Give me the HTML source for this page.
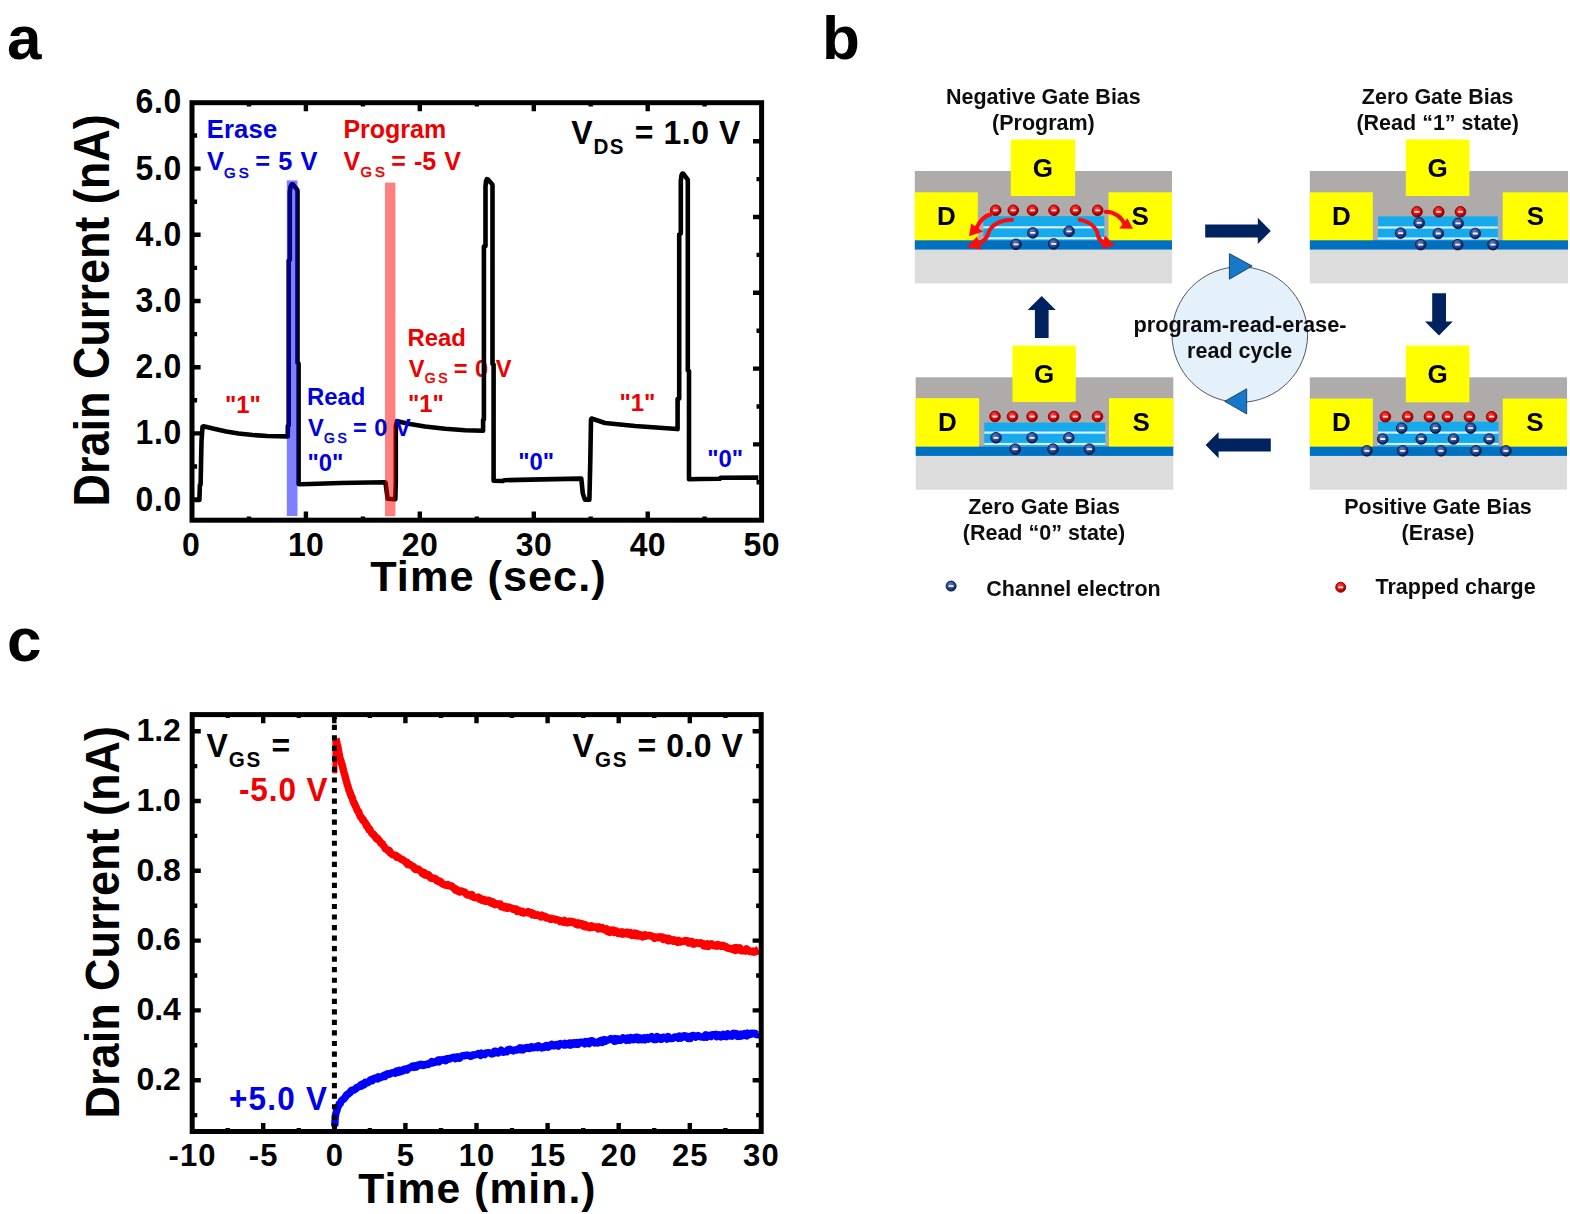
<!DOCTYPE html>
<html lang="en">
<head>
<meta charset="utf-8">
<title>Figure: program-read-erase-read cycle</title>
<style>
html,body{margin:0;padding:0;background:#fff;}
body{width:1570px;height:1214px;overflow:hidden;}
svg{display:block;position:absolute;left:0;top:0;}
svg text{font-family:"Liberation Sans", Arial, Helvetica, sans-serif;}
</style>
</head>
<body>
<svg width="1570" height="1214" viewBox="0 0 1570 1214">
<defs>
<radialGradient id="gr" cx="0.42" cy="0.36" r="0.62">
<stop offset="0" stop-color="#ff4a4a"/><stop offset="0.55" stop-color="#ee0a0a"/><stop offset="1" stop-color="#8a0000"/>
</radialGradient>
<radialGradient id="gb" cx="0.42" cy="0.36" r="0.62">
<stop offset="0" stop-color="#5f7fc0"/><stop offset="0.55" stop-color="#2f4f98"/><stop offset="1" stop-color="#0b1a4a"/>
</radialGradient>
<filter id="soft" x="-2%" y="-2%" width="104%" height="104%"><feGaussianBlur stdDeviation="0.55"/></filter>
</defs>
<rect x="0" y="0" width="1570" height="1214" fill="#ffffff"/>
<g id="panel-a">
<text x="7.00" y="59.00" font-size="62" fill="#000" text-anchor="start" font-weight="bold">a</text>
<text x="407.40" y="346.00" font-size="23.9" fill="#ec0000" text-anchor="start" font-weight="bold">Read</text>
<text x="408.70" y="376.50" font-size="23.62" font-weight="bold" fill="#ec0000">V</text>
<text x="424.70" y="383.20" font-size="13.95" font-weight="normal" fill="#ec0000" stroke="#ec0000" stroke-width="0.56" letter-spacing="2.70">GS</text>
<text x="453.71" y="376.50" font-size="23.62" font-weight="bold" fill="#ec0000" word-spacing="1.02">= 0 V</text>
<text x="408.00" y="411.90" font-size="23.9" fill="#ec0000" text-anchor="start" font-weight="bold">"1"</text>
<path d="M194.8 499.9 L199.4 499.9 L199.9 485.0 L200.6 484.4 L201.5 441.2 L202.5 426.8 L203.5 426.3 L215.0 429.0 L226.2 431.4 L238.5 433.5 L252.9 435.0 L267.4 436.0 L286.9 436.4 L287.8 436.4 L287.8 426.0 L288.7 425.5 L288.7 260.5 L289.8 260.0 L289.8 192.0 L290.6 186.5 L291.8 184.4 L293.0 184.3 L297.3 189.8 L297.5 191.5 L297.5 363.0 L298.6 363.5 L298.6 484.0 L300.0 484.3 L310.0 484.0 L340.0 483.0 L384.5 482.2 L385.5 482.4 L387.6 498.8 L395.3 499.3 L395.8 482.0 L395.8 425.7 L397.0 421.2 L410.0 424.0 L425.0 426.5 L445.0 428.8 L465.0 430.2 L482.5 430.8 L483.1 430.8 L483.1 420.0 L483.9 419.5 L483.9 246.5 L485.5 246.0 L485.5 186.5 L486.0 181.0 L486.9 179.2 L488.0 179.5 L492.3 184.4 L492.5 186.0 L492.5 364.0 L493.6 364.5 L493.6 480.8 L503.0 481.0 L504.0 480.2 L530.0 479.6 L579.8 478.6 L581.3 478.6 L582.8 493.6 L584.9 499.6 L589.4 499.6 L590.3 460.5 L591.0 420.0 L591.5 418.5 L605.0 423.0 L635.0 426.0 L677.2 429.0 L677.6 429.1 L677.6 399.0 L679.2 398.5 L679.2 234.5 L680.8 233.5 L680.8 181.0 L681.5 175.4 L682.4 173.6 L683.4 173.8 L687.7 179.6 L687.8 181.5 L687.8 370.5 L689.0 371.0 L689.0 479.2 L700.0 479.0 L719.8 478.8 L720.6 477.8 L758.4 477.6" fill="none" stroke="#000" stroke-width="4.6" stroke-linejoin="round" stroke-linecap="butt"/>
<rect x="286.8" y="180.4" width="10.7" height="335.6" fill="#0000ff" fill-opacity="0.5"/>
<rect x="385.0" y="182.6" width="10.4" height="333.6" fill="#ff0000" fill-opacity="0.5"/>
<rect x="192.0" y="102.7" width="569.6" height="417.5" fill="none" stroke="#000" stroke-width="5"/>
<path d="M305.9 520.2 v-8.6 M305.9 102.7 v8.6 M419.8 520.2 v-8.6 M419.8 102.7 v8.6 M533.8 520.2 v-8.6 M533.8 102.7 v8.6 M647.7 520.2 v-8.6 M647.7 102.7 v8.6 M249.0 520.2 v-3.8 M249.0 102.7 v3.8 M362.9 520.2 v-3.8 M362.9 102.7 v3.8 M476.8 520.2 v-3.8 M476.8 102.7 v3.8 M590.7 520.2 v-3.8 M590.7 102.7 v3.8 M704.6 520.2 v-3.8 M704.6 102.7 v3.8 M192.0 499.6 h8.6 M192.0 433.4 h8.6 M192.0 367.2 h8.6 M192.0 301.0 h8.6 M192.0 234.8 h8.6 M192.0 168.6 h8.6 M192.0 466.5 h5.1 M192.0 400.3 h5.1 M192.0 334.1 h5.1 M192.0 267.9 h5.1 M192.0 201.7 h5.1 M192.0 135.5 h5.1 M761.6 444.4 h-8.6 M761.6 368.6 h-8.6 M761.6 292.8 h-8.6 M761.6 217.0 h-8.6 M761.6 141.2 h-8.6 M761.6 482.3 h-5.1 M761.6 406.5 h-5.1 M761.6 330.7 h-5.1 M761.6 254.9 h-5.1 M761.6 179.1 h-5.1" fill="none" stroke="#000" stroke-width="4.4"/>
<text x="190.80" y="555.70" font-size="32" fill="#000" text-anchor="middle" font-weight="bold" transform="translate(190.80 555.70) scale(1 1.05) translate(-190.80 -555.70)">0</text>
<text x="306.12" y="555.70" font-size="32" fill="#000" text-anchor="middle" font-weight="bold" letter-spacing="0.4" transform="translate(306.12 555.70) scale(1 1.05) translate(-306.12 -555.70)">10</text>
<text x="420.04" y="555.70" font-size="32" fill="#000" text-anchor="middle" font-weight="bold" letter-spacing="0.4" transform="translate(420.04 555.70) scale(1 1.05) translate(-420.04 -555.70)">20</text>
<text x="533.96" y="555.70" font-size="32" fill="#000" text-anchor="middle" font-weight="bold" letter-spacing="0.4" transform="translate(533.96 555.70) scale(1 1.05) translate(-533.96 -555.70)">30</text>
<text x="647.88" y="555.70" font-size="32" fill="#000" text-anchor="middle" font-weight="bold" letter-spacing="0.4" transform="translate(647.88 555.70) scale(1 1.05) translate(-647.88 -555.70)">40</text>
<text x="761.80" y="555.70" font-size="32" fill="#000" text-anchor="middle" font-weight="bold" letter-spacing="0.4" transform="translate(761.80 555.70) scale(1 1.05) translate(-761.80 -555.70)">50</text>
<text x="182.10" y="510.60" font-size="32" fill="#000" text-anchor="end" font-weight="bold" letter-spacing="0.7" transform="translate(182.10 510.60) scale(1 1.075) translate(-182.10 -510.60)">0.0</text>
<text x="182.10" y="444.40" font-size="32" fill="#000" text-anchor="end" font-weight="bold" letter-spacing="0.7" transform="translate(182.10 444.40) scale(1 1.075) translate(-182.10 -444.40)">1.0</text>
<text x="182.10" y="378.20" font-size="32" fill="#000" text-anchor="end" font-weight="bold" letter-spacing="0.7" transform="translate(182.10 378.20) scale(1 1.075) translate(-182.10 -378.20)">2.0</text>
<text x="182.10" y="312.00" font-size="32" fill="#000" text-anchor="end" font-weight="bold" letter-spacing="0.7" transform="translate(182.10 312.00) scale(1 1.075) translate(-182.10 -312.00)">3.0</text>
<text x="182.10" y="245.80" font-size="32" fill="#000" text-anchor="end" font-weight="bold" letter-spacing="0.7" transform="translate(182.10 245.80) scale(1 1.075) translate(-182.10 -245.80)">4.0</text>
<text x="182.10" y="179.60" font-size="32" fill="#000" text-anchor="end" font-weight="bold" letter-spacing="0.7" transform="translate(182.10 179.60) scale(1 1.075) translate(-182.10 -179.60)">5.0</text>
<text x="182.10" y="113.40" font-size="32" fill="#000" text-anchor="end" font-weight="bold" letter-spacing="0.7" transform="translate(182.10 113.40) scale(1 1.075) translate(-182.10 -113.40)">6.0</text>
<text x="488.40" y="591.10" font-size="43.3" fill="#000" text-anchor="middle" font-weight="bold" letter-spacing="1.0">Time (sec.)</text>
<text transform="translate(109.3 310.4) rotate(-90) scale(1 1.09)" font-size="45" font-weight="bold" text-anchor="middle">Drain Current (nA)</text>
<text x="206.70" y="138.30" font-size="25.6" fill="#0000e0" text-anchor="start" font-weight="bold" letter-spacing="0.2">Erase</text>
<text x="206.90" y="170.30" font-size="25.40" font-weight="bold" fill="#0000e0">V</text>
<text x="224.10" y="177.50" font-size="15.00" font-weight="normal" fill="#0000e0" stroke="#0000e0" stroke-width="0.60" letter-spacing="2.90">GS</text>
<text x="255.30" y="170.30" font-size="25.40" font-weight="bold" fill="#0000e0" word-spacing="1.10">= 5 V</text>
<text x="343.40" y="138.00" font-size="25.0" fill="#ec0000" text-anchor="start" font-weight="bold">Program</text>
<text x="343.60" y="170.00" font-size="25.02" font-weight="bold" fill="#ec0000">V</text>
<text x="360.54" y="177.09" font-size="14.78" font-weight="normal" fill="#ec0000" stroke="#ec0000" stroke-width="0.59" letter-spacing="2.86">GS</text>
<text x="391.27" y="170.00" font-size="25.02" font-weight="bold" fill="#ec0000" word-spacing="1.08">= -5 V</text>
<text x="306.90" y="404.50" font-size="23.9" fill="#0000e0" text-anchor="start" font-weight="bold">Read</text>
<text x="308.00" y="435.80" font-size="23.62" font-weight="bold" fill="#0000e0">V</text>
<text x="324.00" y="442.50" font-size="13.95" font-weight="normal" fill="#0000e0" stroke="#0000e0" stroke-width="0.56" letter-spacing="2.70">GS</text>
<text x="353.01" y="435.80" font-size="23.62" font-weight="bold" fill="#0000e0" word-spacing="1.02">= 0 V</text>
<text x="307.50" y="471.20" font-size="23.9" fill="#0000e0" text-anchor="start" font-weight="bold">"0"</text>
<text x="225.00" y="412.80" font-size="23.9" fill="#ec0000" text-anchor="start" font-weight="bold">"1"</text>
<text x="518.20" y="470.00" font-size="23.9" fill="#0000e0" text-anchor="start" font-weight="bold">"0"</text>
<text x="619.40" y="411.00" font-size="23.9" fill="#ec0000" text-anchor="start" font-weight="bold">"1"</text>
<text x="707.20" y="467.40" font-size="23.9" fill="#0000e0" text-anchor="start" font-weight="bold">"0"</text>
<g transform="translate(0 144.2) scale(1 1.06) translate(0 -144.2)">
<text x="571.3" y="144.2" font-size="32" font-weight="bold" fill="#000">V</text>
<text x="593.6" y="153.4" font-size="20.6" font-weight="bold" fill="#000" letter-spacing="1.2">DS</text>
<text x="634.8" y="144.2" font-size="32" font-weight="bold" fill="#000" letter-spacing="0.55">= 1.0 V</text>
</g>
</g>
<g id="panel-b">
<text x="822.00" y="58.50" font-size="62" fill="#000" text-anchor="start" font-weight="bold">b</text>
<g filter="url(#soft)">
<rect x="914.8" y="171" width="257.2" height="70.2" fill="#afabab"/>
<rect x="914.8" y="249.4" width="257.2" height="34" fill="#dcdcdc"/>
<rect x="914.8" y="240.2" width="257.2" height="9.4" fill="#0070c0"/>
<rect x="983.3" y="216.2" width="121.0" height="24.0" fill="#12a9ec"/>
<rect x="983.3" y="226.2" width="121.0" height="2.2" fill="#d8f1fc"/>
<rect x="983.3" y="237.2" width="121.0" height="2.2" fill="#d8f1fc"/>
<rect x="1010.8" y="139.5" width="64.3" height="56.5" fill="#ffff00"/>
<rect x="914.8" y="192.3" width="63.0" height="47.9" fill="#ffff00"/>
<rect x="1108.5" y="192.3" width="63.5" height="47.9" fill="#ffff00"/>
<circle cx="995.7" cy="210.3" r="5.3" fill="url(#gr)" stroke="#7a0000" stroke-width="0.9"/>
<rect x="993.1" y="209.4" width="5.2" height="1.8" rx="0.6" fill="#fff" fill-opacity="0.92"/>
<circle cx="1013.3" cy="210.3" r="5.3" fill="url(#gr)" stroke="#7a0000" stroke-width="0.9"/>
<rect x="1010.7" y="209.4" width="5.2" height="1.8" rx="0.6" fill="#fff" fill-opacity="0.92"/>
<circle cx="1032.5" cy="210.3" r="5.3" fill="url(#gr)" stroke="#7a0000" stroke-width="0.9"/>
<rect x="1029.9" y="209.4" width="5.2" height="1.8" rx="0.6" fill="#fff" fill-opacity="0.92"/>
<circle cx="1054.0" cy="210.3" r="5.3" fill="url(#gr)" stroke="#7a0000" stroke-width="0.9"/>
<rect x="1051.4" y="209.4" width="5.2" height="1.8" rx="0.6" fill="#fff" fill-opacity="0.92"/>
<circle cx="1075.6" cy="210.3" r="5.3" fill="url(#gr)" stroke="#7a0000" stroke-width="0.9"/>
<rect x="1073.0" y="209.4" width="5.2" height="1.8" rx="0.6" fill="#fff" fill-opacity="0.92"/>
<circle cx="1097.7" cy="210.3" r="5.3" fill="url(#gr)" stroke="#7a0000" stroke-width="0.9"/>
<rect x="1095.1" y="209.4" width="5.2" height="1.8" rx="0.6" fill="#fff" fill-opacity="0.92"/>
<circle cx="1032.8" cy="232.9" r="5.3" fill="url(#gb)" stroke="#0a1540" stroke-width="0.9"/>
<rect x="1030.2" y="232.0" width="5.2" height="1.8" rx="0.6" fill="#fff" fill-opacity="0.92"/>
<circle cx="1069.1" cy="231.3" r="5.3" fill="url(#gb)" stroke="#0a1540" stroke-width="0.9"/>
<rect x="1066.5" y="230.4" width="5.2" height="1.8" rx="0.6" fill="#fff" fill-opacity="0.92"/>
<circle cx="1016.0" cy="244.3" r="5.3" fill="url(#gb)" stroke="#0a1540" stroke-width="0.9"/>
<rect x="1013.4" y="243.4" width="5.2" height="1.8" rx="0.6" fill="#fff" fill-opacity="0.92"/>
<circle cx="1053.7" cy="243.9" r="5.3" fill="url(#gb)" stroke="#0a1540" stroke-width="0.9"/>
<rect x="1051.1" y="243.0" width="5.2" height="1.8" rx="0.6" fill="#fff" fill-opacity="0.92"/>
<text x="1042.95" y="177.15" font-size="26" fill="#000" text-anchor="middle" font-weight="bold">G</text>
<text x="946.30" y="224.55" font-size="26" fill="#000" text-anchor="middle" font-weight="bold">D</text>
<text x="1140.25" y="224.55" font-size="26" fill="#000" text-anchor="middle" font-weight="bold">S</text>
<rect x="1309.8" y="171" width="258.2" height="70.2" fill="#afabab"/>
<rect x="1309.8" y="249.4" width="258.2" height="34" fill="#dcdcdc"/>
<rect x="1309.8" y="240.2" width="258.2" height="9.4" fill="#0070c0"/>
<rect x="1378" y="216.4" width="119.8" height="23.8" fill="#12a9ec"/>
<rect x="1378" y="226.4" width="119.8" height="2.2" fill="#d8f1fc"/>
<rect x="1378" y="237.4" width="119.8" height="2.2" fill="#d8f1fc"/>
<rect x="1405.8" y="139.5" width="63.6" height="56.5" fill="#ffff00"/>
<rect x="1309.8" y="192.3" width="63.0" height="47.9" fill="#ffff00"/>
<rect x="1502.7" y="192.3" width="65.3" height="47.9" fill="#ffff00"/>
<circle cx="1417.0" cy="211.8" r="5.3" fill="url(#gr)" stroke="#7a0000" stroke-width="0.9"/>
<rect x="1414.4" y="210.9" width="5.2" height="1.8" rx="0.6" fill="#fff" fill-opacity="0.92"/>
<circle cx="1438.8" cy="211.8" r="5.3" fill="url(#gr)" stroke="#7a0000" stroke-width="0.9"/>
<rect x="1436.2" y="210.9" width="5.2" height="1.8" rx="0.6" fill="#fff" fill-opacity="0.92"/>
<circle cx="1460.5" cy="211.8" r="5.3" fill="url(#gr)" stroke="#7a0000" stroke-width="0.9"/>
<rect x="1457.9" y="210.9" width="5.2" height="1.8" rx="0.6" fill="#fff" fill-opacity="0.92"/>
<circle cx="1419.2" cy="222.9" r="5.3" fill="url(#gb)" stroke="#0a1540" stroke-width="0.9"/>
<rect x="1416.6" y="222.0" width="5.2" height="1.8" rx="0.6" fill="#fff" fill-opacity="0.92"/>
<circle cx="1458.1" cy="223.4" r="5.3" fill="url(#gb)" stroke="#0a1540" stroke-width="0.9"/>
<rect x="1455.5" y="222.5" width="5.2" height="1.8" rx="0.6" fill="#fff" fill-opacity="0.92"/>
<circle cx="1400.6" cy="233.1" r="5.3" fill="url(#gb)" stroke="#0a1540" stroke-width="0.9"/>
<rect x="1398.0" y="232.2" width="5.2" height="1.8" rx="0.6" fill="#fff" fill-opacity="0.92"/>
<circle cx="1438.3" cy="233.5" r="5.3" fill="url(#gb)" stroke="#0a1540" stroke-width="0.9"/>
<rect x="1435.7" y="232.6" width="5.2" height="1.8" rx="0.6" fill="#fff" fill-opacity="0.92"/>
<circle cx="1475.3" cy="233.5" r="5.3" fill="url(#gb)" stroke="#0a1540" stroke-width="0.9"/>
<rect x="1472.7" y="232.6" width="5.2" height="1.8" rx="0.6" fill="#fff" fill-opacity="0.92"/>
<circle cx="1420.7" cy="244.6" r="5.3" fill="url(#gb)" stroke="#0a1540" stroke-width="0.9"/>
<rect x="1418.1" y="243.7" width="5.2" height="1.8" rx="0.6" fill="#fff" fill-opacity="0.92"/>
<circle cx="1457.7" cy="244.6" r="5.3" fill="url(#gb)" stroke="#0a1540" stroke-width="0.9"/>
<rect x="1455.1" y="243.7" width="5.2" height="1.8" rx="0.6" fill="#fff" fill-opacity="0.92"/>
<circle cx="1493.0" cy="244.6" r="5.3" fill="url(#gb)" stroke="#0a1540" stroke-width="0.9"/>
<rect x="1490.4" y="243.7" width="5.2" height="1.8" rx="0.6" fill="#fff" fill-opacity="0.92"/>
<text x="1437.60" y="177.15" font-size="26" fill="#000" text-anchor="middle" font-weight="bold">G</text>
<text x="1341.30" y="224.55" font-size="26" fill="#000" text-anchor="middle" font-weight="bold">D</text>
<text x="1535.35" y="224.55" font-size="26" fill="#000" text-anchor="middle" font-weight="bold">S</text>
<rect x="1309.8" y="377.3" width="257.2" height="70.2" fill="#afabab"/>
<rect x="1309.8" y="455.7" width="257.2" height="34" fill="#dcdcdc"/>
<rect x="1309.8" y="446.5" width="257.2" height="9.4" fill="#0070c0"/>
<rect x="1378" y="421.7" width="120.5" height="24.8" fill="#12a9ec"/>
<rect x="1378" y="431.5" width="120.5" height="2.2" fill="#d8f1fc"/>
<rect x="1378" y="442.9" width="120.5" height="2.2" fill="#d8f1fc"/>
<rect x="1405.8" y="345.6" width="63.6" height="56.7" fill="#ffff00"/>
<rect x="1309.8" y="398.6" width="63.0" height="47.9" fill="#ffff00"/>
<rect x="1502.7" y="398.6" width="64.3" height="47.9" fill="#ffff00"/>
<circle cx="1385.4" cy="416.7" r="5.3" fill="url(#gr)" stroke="#7a0000" stroke-width="0.9"/>
<rect x="1382.8" y="415.8" width="5.2" height="1.8" rx="0.6" fill="#fff" fill-opacity="0.92"/>
<circle cx="1407.7" cy="416.7" r="5.3" fill="url(#gr)" stroke="#7a0000" stroke-width="0.9"/>
<rect x="1405.1" y="415.8" width="5.2" height="1.8" rx="0.6" fill="#fff" fill-opacity="0.92"/>
<circle cx="1429.4" cy="416.7" r="5.3" fill="url(#gr)" stroke="#7a0000" stroke-width="0.9"/>
<rect x="1426.8" y="415.8" width="5.2" height="1.8" rx="0.6" fill="#fff" fill-opacity="0.92"/>
<circle cx="1447.5" cy="416.7" r="5.3" fill="url(#gr)" stroke="#7a0000" stroke-width="0.9"/>
<rect x="1444.9" y="415.8" width="5.2" height="1.8" rx="0.6" fill="#fff" fill-opacity="0.92"/>
<circle cx="1469.4" cy="416.7" r="5.3" fill="url(#gr)" stroke="#7a0000" stroke-width="0.9"/>
<rect x="1466.8" y="415.8" width="5.2" height="1.8" rx="0.6" fill="#fff" fill-opacity="0.92"/>
<circle cx="1491.6" cy="416.7" r="5.3" fill="url(#gr)" stroke="#7a0000" stroke-width="0.9"/>
<rect x="1489.0" y="415.8" width="5.2" height="1.8" rx="0.6" fill="#fff" fill-opacity="0.92"/>
<circle cx="1401.7" cy="428.2" r="5.3" fill="url(#gb)" stroke="#0a1540" stroke-width="0.9"/>
<rect x="1399.1" y="427.3" width="5.2" height="1.8" rx="0.6" fill="#fff" fill-opacity="0.92"/>
<circle cx="1435.5" cy="428.2" r="5.3" fill="url(#gb)" stroke="#0a1540" stroke-width="0.9"/>
<rect x="1432.9" y="427.3" width="5.2" height="1.8" rx="0.6" fill="#fff" fill-opacity="0.92"/>
<circle cx="1470.7" cy="428.2" r="5.3" fill="url(#gb)" stroke="#0a1540" stroke-width="0.9"/>
<rect x="1468.1" y="427.3" width="5.2" height="1.8" rx="0.6" fill="#fff" fill-opacity="0.92"/>
<circle cx="1382.7" cy="439.0" r="5.3" fill="url(#gb)" stroke="#0a1540" stroke-width="0.9"/>
<rect x="1380.1" y="438.1" width="5.2" height="1.8" rx="0.6" fill="#fff" fill-opacity="0.92"/>
<circle cx="1421.2" cy="439.0" r="5.3" fill="url(#gb)" stroke="#0a1540" stroke-width="0.9"/>
<rect x="1418.6" y="438.1" width="5.2" height="1.8" rx="0.6" fill="#fff" fill-opacity="0.92"/>
<circle cx="1453.5" cy="439.0" r="5.3" fill="url(#gb)" stroke="#0a1540" stroke-width="0.9"/>
<rect x="1450.9" y="438.1" width="5.2" height="1.8" rx="0.6" fill="#fff" fill-opacity="0.92"/>
<circle cx="1489.2" cy="439.0" r="5.3" fill="url(#gb)" stroke="#0a1540" stroke-width="0.9"/>
<rect x="1486.6" y="438.1" width="5.2" height="1.8" rx="0.6" fill="#fff" fill-opacity="0.92"/>
<circle cx="1366.9" cy="450.8" r="5.3" fill="url(#gb)" stroke="#0a1540" stroke-width="0.9"/>
<rect x="1364.3" y="449.9" width="5.2" height="1.8" rx="0.6" fill="#fff" fill-opacity="0.92"/>
<circle cx="1402.7" cy="450.8" r="5.3" fill="url(#gb)" stroke="#0a1540" stroke-width="0.9"/>
<rect x="1400.1" y="449.9" width="5.2" height="1.8" rx="0.6" fill="#fff" fill-opacity="0.92"/>
<circle cx="1441.0" cy="450.8" r="5.3" fill="url(#gb)" stroke="#0a1540" stroke-width="0.9"/>
<rect x="1438.4" y="449.9" width="5.2" height="1.8" rx="0.6" fill="#fff" fill-opacity="0.92"/>
<circle cx="1475.9" cy="450.8" r="5.3" fill="url(#gb)" stroke="#0a1540" stroke-width="0.9"/>
<rect x="1473.3" y="449.9" width="5.2" height="1.8" rx="0.6" fill="#fff" fill-opacity="0.92"/>
<circle cx="1505.9" cy="450.8" r="5.3" fill="url(#gb)" stroke="#0a1540" stroke-width="0.9"/>
<rect x="1503.3" y="449.9" width="5.2" height="1.8" rx="0.6" fill="#fff" fill-opacity="0.92"/>
<text x="1437.60" y="383.35" font-size="26" fill="#000" text-anchor="middle" font-weight="bold">G</text>
<text x="1341.30" y="430.85" font-size="26" fill="#000" text-anchor="middle" font-weight="bold">D</text>
<text x="1534.85" y="430.85" font-size="26" fill="#000" text-anchor="middle" font-weight="bold">S</text>
<rect x="915.7" y="377.3" width="257.6" height="70.2" fill="#afabab"/>
<rect x="915.7" y="455.7" width="257.6" height="34" fill="#dcdcdc"/>
<rect x="915.7" y="446.5" width="257.6" height="9.4" fill="#0070c0"/>
<rect x="984.3" y="422.6" width="121.0" height="23.9" fill="#12a9ec"/>
<rect x="984.3" y="431.5" width="121.0" height="2.2" fill="#d8f1fc"/>
<rect x="984.3" y="442.9" width="121.0" height="2.2" fill="#d8f1fc"/>
<rect x="1012.5" y="345.6" width="63.3" height="56.4" fill="#ffff00"/>
<rect x="915.7" y="398.2" width="63.4" height="48.3" fill="#ffff00"/>
<rect x="1109" y="398.2" width="64.3" height="48.3" fill="#ffff00"/>
<circle cx="995.0" cy="416.5" r="5.3" fill="url(#gr)" stroke="#7a0000" stroke-width="0.9"/>
<rect x="992.4" y="415.6" width="5.2" height="1.8" rx="0.6" fill="#fff" fill-opacity="0.92"/>
<circle cx="1012.5" cy="416.5" r="5.3" fill="url(#gr)" stroke="#7a0000" stroke-width="0.9"/>
<rect x="1009.9" y="415.6" width="5.2" height="1.8" rx="0.6" fill="#fff" fill-opacity="0.92"/>
<circle cx="1032.1" cy="416.5" r="5.3" fill="url(#gr)" stroke="#7a0000" stroke-width="0.9"/>
<rect x="1029.5" y="415.6" width="5.2" height="1.8" rx="0.6" fill="#fff" fill-opacity="0.92"/>
<circle cx="1053.6" cy="416.5" r="5.3" fill="url(#gr)" stroke="#7a0000" stroke-width="0.9"/>
<rect x="1051.0" y="415.6" width="5.2" height="1.8" rx="0.6" fill="#fff" fill-opacity="0.92"/>
<circle cx="1075.3" cy="416.5" r="5.3" fill="url(#gr)" stroke="#7a0000" stroke-width="0.9"/>
<rect x="1072.7" y="415.6" width="5.2" height="1.8" rx="0.6" fill="#fff" fill-opacity="0.92"/>
<circle cx="1097.5" cy="416.5" r="5.3" fill="url(#gr)" stroke="#7a0000" stroke-width="0.9"/>
<rect x="1094.9" y="415.6" width="5.2" height="1.8" rx="0.6" fill="#fff" fill-opacity="0.92"/>
<circle cx="996.0" cy="437.8" r="5.3" fill="url(#gb)" stroke="#0a1540" stroke-width="0.9"/>
<rect x="993.4" y="436.9" width="5.2" height="1.8" rx="0.6" fill="#fff" fill-opacity="0.92"/>
<circle cx="1032.1" cy="437.8" r="5.3" fill="url(#gb)" stroke="#0a1540" stroke-width="0.9"/>
<rect x="1029.5" y="436.9" width="5.2" height="1.8" rx="0.6" fill="#fff" fill-opacity="0.92"/>
<circle cx="1068.8" cy="437.8" r="5.3" fill="url(#gb)" stroke="#0a1540" stroke-width="0.9"/>
<rect x="1066.2" y="436.9" width="5.2" height="1.8" rx="0.6" fill="#fff" fill-opacity="0.92"/>
<circle cx="1015.2" cy="449.1" r="5.3" fill="url(#gb)" stroke="#0a1540" stroke-width="0.9"/>
<rect x="1012.6" y="448.2" width="5.2" height="1.8" rx="0.6" fill="#fff" fill-opacity="0.92"/>
<circle cx="1053.0" cy="449.1" r="5.3" fill="url(#gb)" stroke="#0a1540" stroke-width="0.9"/>
<rect x="1050.4" y="448.2" width="5.2" height="1.8" rx="0.6" fill="#fff" fill-opacity="0.92"/>
<circle cx="1089.4" cy="449.1" r="5.3" fill="url(#gb)" stroke="#0a1540" stroke-width="0.9"/>
<rect x="1086.8" y="448.2" width="5.2" height="1.8" rx="0.6" fill="#fff" fill-opacity="0.92"/>
<text x="1044.15" y="383.20" font-size="26" fill="#000" text-anchor="middle" font-weight="bold">G</text>
<text x="947.40" y="430.65" font-size="26" fill="#000" text-anchor="middle" font-weight="bold">D</text>
<text x="1141.15" y="430.65" font-size="26" fill="#000" text-anchor="middle" font-weight="bold">S</text>
<path d="M991 214.2 C985 215.5 979.5 221 976.2 228.5" fill="none" stroke="#fa0a0a" stroke-width="4" stroke-linecap="round"/>
<path d="M969 236.2 L971.2 223.6 L983.2 231.4 Z" fill="#fa0a0a"/>
<path d="M1012 219.8 C1000 220 991 225 988.6 232.5 C987.4 237.5 984.5 240.6 980 243" fill="none" stroke="#fa0a0a" stroke-width="4" stroke-linecap="round"/>
<path d="M966.8 247.2 L977 236.6 L981.6 249.4 Z" fill="#fa0a0a"/>
<path d="M1079.7 219.8 C1089 221.5 1096.5 227 1098 235.5 C1098.6 238.5 1100.5 241 1103 242.4" fill="none" stroke="#fa0a0a" stroke-width="4" stroke-linecap="round"/>
<path d="M1114.6 245.6 L1101.4 248.8 L1105 235.6 Z" fill="#fa0a0a"/>
<path d="M1105.8 211.8 C1114 212 1121.5 216.5 1124.6 224.5" fill="none" stroke="#fa0a0a" stroke-width="4" stroke-linecap="round"/>
<path d="M1133 228.8 L1119.2 228.6 L1127.4 218.2 Z" fill="#fa0a0a"/>
<path d="M1205.2 224.6 H1257.8 V217.7 L1270.8 231 L1257.8 244 V237.5 H1205.2 Z" fill="#04215f"/>
<path d="M1270.8 438.4 H1218.6 V432 L1205.6 445.1 L1218.6 458.2 V451.6 H1270.8 Z" fill="#04215f"/>
<path d="M1432.2 293.2 H1446 V321.4 H1452.8 L1439 335.4 L1425 321.4 H1432.2 Z" fill="#04215f"/>
<path d="M1034.9 337.9 H1048.6 V309.9 H1055.8 L1041.7 296 L1027.6 309.9 H1034.9 Z" fill="#04215f"/>
<circle cx="1239.8" cy="334.6" r="67.8" fill="#e4f1fb" stroke="#3c4650" stroke-width="0.9"/>
<path d="M1229.4 253.6 L1252.2 266 L1229.4 279.2 Z" fill="#1779c8" stroke="#0c2c55" stroke-width="0.8"/>
<path d="M1246.7 388.8 L1246.7 414 L1224.7 401.3 Z" fill="#1779c8" stroke="#0c2c55" stroke-width="0.8"/>
<text x="1240.00" y="332.10" font-size="21.8" fill="#111" text-anchor="middle" font-weight="bold">program-read-erase-</text>
<text x="1239.70" y="357.60" font-size="21.5" fill="#111" text-anchor="middle" font-weight="bold">read cycle</text>
<text x="1043.40" y="104.30" font-size="21.5" fill="#111" text-anchor="middle" font-weight="bold">Negative Gate Bias</text>
<text x="1043.40" y="129.80" font-size="21.5" fill="#111" text-anchor="middle" font-weight="bold">(Program)</text>
<text x="1437.70" y="104.30" font-size="21.5" fill="#111" text-anchor="middle" font-weight="bold">Zero Gate Bias</text>
<text x="1437.70" y="129.80" font-size="21.5" fill="#111" text-anchor="middle" font-weight="bold">(Read “1” state)</text>
<text x="1438.00" y="514.40" font-size="21.5" fill="#111" text-anchor="middle" font-weight="bold">Positive Gate Bias</text>
<text x="1438.00" y="539.90" font-size="21.5" fill="#111" text-anchor="middle" font-weight="bold">(Erase)</text>
<text x="1044.00" y="514.40" font-size="21.5" fill="#111" text-anchor="middle" font-weight="bold">Zero Gate Bias</text>
<text x="1044.00" y="539.90" font-size="21.5" fill="#111" text-anchor="middle" font-weight="bold">(Read “0” state)</text>
<circle cx="951.1" cy="586.1" r="5.0" fill="url(#gb)" stroke="#0a1540" stroke-width="0.9"/>
<rect x="948.5" y="585.2" width="5.2" height="1.8" rx="0.6" fill="#fff" fill-opacity="0.92"/>
<text x="986.30" y="596.40" font-size="21.5" fill="#111" text-anchor="start" font-weight="bold">Channel electron</text>
<circle cx="1340.7" cy="587.3" r="5.0" fill="url(#gr)" stroke="#7a0000" stroke-width="0.9"/>
<rect x="1338.1" y="586.4" width="5.2" height="1.8" rx="0.6" fill="#fff" fill-opacity="0.92"/>
<text x="1375.50" y="594.20" font-size="21.5" fill="#111" text-anchor="start" font-weight="bold">Trapped charge</text>
</g>
</g>
<g id="panel-c">
<text x="7.00" y="661.00" font-size="62" fill="#000" text-anchor="start" font-weight="bold">c</text>
<path d="M334.9 740.3 V773.3" stroke="#ff0000" stroke-width="5" fill="none"/>
<path d="M336.0 738.9 L336.3 739.6 L336.5 741.6 L336.7 741.7 L337.0 743.6 L337.2 744.3 L337.4 744.9 L337.7 746.8 L337.9 747.0 L338.1 748.8 L338.3 749.2 L338.5 750.3 L338.7 752.0 L338.9 753.9 L339.1 753.6 L339.4 754.9 L339.6 756.7 L339.9 758.4 L340.2 758.8 L340.5 759.5 L340.8 761.6 L341.1 761.0 L341.4 763.5 L341.7 763.5 L342.0 764.3 L342.3 765.3 L342.6 766.8 L342.9 768.8 L343.2 768.6 L343.4 770.5 L343.7 771.7 L344.0 772.2 L344.2 773.6 L344.5 773.8 L344.8 774.8 L345.1 776.2 L345.4 778.2 L345.7 778.7 L346.0 779.6 L346.3 781.2 L346.6 782.0 L346.9 782.7 L347.2 784.7 L347.5 785.6 L347.9 785.8 L348.2 787.5 L348.5 788.4 L348.9 790.2 L349.2 790.9 L349.6 791.1 L350.0 793.5 L350.3 792.8 L350.7 794.5 L351.1 796.2 L351.5 796.0 L351.9 797.7 L352.4 797.8 L352.8 800.1 L353.2 801.3 L353.6 801.9 L354.1 803.6 L354.5 803.4 L355.0 805.2 L355.4 806.0 L355.9 807.0 L356.4 807.7 L356.8 809.5 L357.3 810.7 L357.8 810.8 L358.3 812.1 L358.8 811.9 L359.3 814.2 L359.8 815.1 L360.4 816.7 L360.9 817.3 L361.4 817.2 L362.0 818.3 L362.6 819.9 L363.2 819.5 L363.7 821.3 L364.3 821.6 L364.9 822.5 L365.6 823.3 L366.2 825.7 L366.8 825.2 L367.5 826.4 L368.1 827.6 L368.7 829.5 L369.4 828.7 L370.1 830.3 L370.8 831.4 L371.5 833.0 L372.2 833.7 L372.9 834.6 L373.6 834.2 L374.3 835.3 L375.1 836.0 L375.8 838.0 L376.5 839.0 L377.3 838.1 L378.0 839.0 L378.8 839.9 L379.5 840.7 L380.2 842.1 L380.9 843.2 L381.7 843.3 L382.4 843.6 L383.1 845.3 L383.9 846.0 L384.6 847.3 L385.4 848.9 L386.1 849.1 L386.9 849.5 L387.8 850.4 L388.6 851.3 L389.4 850.6 L390.3 853.1 L391.2 853.6 L392.1 854.4 L392.9 854.9 L393.8 854.7 L394.8 855.3 L395.7 855.3 L396.6 857.1 L397.5 856.5 L398.4 857.1 L399.3 858.0 L400.2 858.5 L401.2 859.5 L402.1 859.5 L403.1 859.9 L404.0 860.8 L404.9 861.3 L405.9 862.4 L406.9 862.2 L407.8 864.7 L408.8 864.7 L409.7 864.2 L410.7 864.9 L411.6 865.7 L412.6 866.3 L413.5 866.4 L414.5 868.6 L415.4 869.5 L416.3 868.9 L417.3 869.5 L418.2 869.1 L419.2 869.7 L420.1 870.9 L421.1 871.2 L422.0 873.1 L423.0 872.1 L424.0 872.3 L424.9 875.0 L425.9 874.6 L426.9 874.2 L427.8 875.6 L428.8 874.9 L429.8 876.6 L430.8 878.2 L431.7 878.4 L432.7 878.5 L433.7 878.0 L434.7 878.8 L435.7 878.8 L436.7 880.7 L437.7 880.6 L438.7 881.7 L439.7 881.1 L440.6 881.4 L441.6 883.2 L442.6 884.1 L443.6 884.3 L444.6 884.7 L445.6 885.2 L446.6 885.4 L447.6 884.7 L448.6 885.9 L449.6 885.9 L450.6 885.6 L451.6 886.1 L452.6 887.2 L453.6 887.6 L454.6 889.1 L455.6 890.2 L456.7 889.4 L457.7 891.0 L458.7 891.6 L459.7 892.0 L460.7 890.9 L461.7 891.0 L462.7 891.5 L463.8 891.8 L464.8 892.2 L465.8 893.7 L466.8 894.8 L467.9 895.0 L468.9 894.5 L469.9 895.3 L471.0 896.1 L472.0 894.7 L473.0 896.5 L474.1 897.5 L475.1 897.5 L476.2 897.8 L477.2 897.5 L478.2 897.1 L479.3 899.0 L480.3 898.2 L481.4 899.7 L482.4 900.5 L483.5 899.4 L484.5 899.7 L485.6 901.5 L486.6 901.2 L487.7 900.2 L488.7 900.4 L489.8 900.8 L490.8 903.1 L491.9 903.2 L492.9 901.9 L494.0 904.0 L495.0 904.7 L496.1 904.2 L497.1 903.8 L498.2 904.6 L499.2 903.9 L500.3 903.9 L501.3 906.8 L502.4 906.3 L503.4 906.3 L504.5 907.7 L505.5 906.7 L506.6 908.2 L507.6 908.4 L508.7 907.1 L509.8 907.5 L510.8 907.9 L511.9 908.1 L512.9 909.3 L514.0 908.7 L515.1 909.4 L516.1 909.0 L517.2 911.3 L518.3 910.1 L519.3 910.7 L520.4 911.3 L521.5 912.4 L522.5 911.4 L523.6 913.0 L524.7 912.2 L525.7 912.5 L526.8 912.7 L527.9 911.7 L529.0 913.0 L530.0 912.6 L531.1 912.4 L532.2 914.8 L533.3 913.4 L534.3 914.4 L535.4 915.4 L536.5 915.2 L537.5 914.8 L538.6 915.6 L539.7 915.9 L540.8 916.8 L541.8 915.2 L542.9 916.7 L544.0 916.1 L545.1 916.4 L546.2 918.0 L547.2 917.5 L548.3 917.9 L549.4 918.7 L550.5 919.4 L551.5 918.3 L552.6 919.0 L553.7 919.0 L554.8 919.2 L555.9 920.0 L556.9 919.5 L558.0 920.0 L559.1 920.1 L560.2 921.6 L561.3 921.1 L562.3 921.8 L563.4 922.2 L564.5 920.5 L565.6 921.6 L566.7 922.9 L567.7 922.8 L568.8 921.1 L569.9 921.2 L571.0 922.3 L572.1 921.5 L573.2 922.2 L574.2 921.9 L575.3 923.8 L576.4 924.4 L577.5 924.9 L578.6 923.0 L579.7 924.8 L580.7 924.9 L581.8 923.7 L582.9 926.0 L584.0 926.5 L585.1 924.6 L586.1 926.9 L587.2 925.5 L588.3 926.0 L589.4 927.7 L590.5 927.5 L591.5 925.8 L592.6 926.8 L593.7 927.3 L594.8 927.0 L595.9 926.8 L596.9 927.4 L598.0 928.8 L599.1 927.0 L600.2 928.8 L601.2 928.7 L602.3 927.7 L603.4 928.9 L604.5 930.0 L605.5 929.9 L606.6 928.9 L607.7 931.8 L608.8 931.5 L609.8 932.3 L610.9 930.0 L612.0 930.7 L613.1 930.2 L614.2 932.5 L615.3 931.2 L616.4 931.0 L617.4 932.0 L618.5 933.6 L619.6 933.5 L620.7 932.0 L621.8 931.8 L622.9 934.2 L624.0 933.3 L625.1 933.8 L626.2 932.1 L627.3 932.2 L628.4 934.2 L629.5 933.5 L630.6 932.6 L631.7 935.3 L632.8 934.6 L633.9 935.2 L635.0 933.2 L636.1 935.7 L637.2 933.5 L638.3 936.0 L639.3 935.0 L640.4 934.8 L641.5 935.6 L642.6 936.9 L643.7 935.1 L644.8 934.8 L645.9 936.2 L647.0 935.5 L648.1 935.3 L649.2 935.6 L650.3 935.4 L651.3 936.1 L652.4 936.6 L653.5 936.7 L654.6 938.3 L655.7 937.0 L656.8 937.8 L657.9 937.0 L659.0 937.7 L660.1 936.8 L661.2 937.7 L662.3 937.1 L663.4 939.5 L664.5 939.1 L665.5 938.1 L666.6 939.1 L667.7 940.7 L668.8 938.3 L669.9 940.7 L671.0 939.6 L672.1 940.0 L673.2 941.2 L674.3 939.9 L675.4 940.4 L676.5 941.2 L677.6 942.2 L678.7 940.4 L679.8 942.1 L680.9 941.8 L681.9 941.8 L683.0 941.2 L684.1 941.2 L685.2 940.4 L686.3 940.8 L687.4 940.7 L688.5 943.0 L689.6 941.6 L690.7 941.5 L691.8 941.4 L692.9 944.0 L694.0 944.2 L695.1 943.7 L696.2 942.6 L697.3 942.6 L698.3 943.0 L699.4 943.6 L700.5 942.8 L701.6 943.9 L702.7 943.5 L703.8 945.9 L704.9 946.1 L706.0 944.8 L707.1 944.0 L708.2 946.5 L709.3 944.5 L710.4 944.8 L711.5 943.8 L712.6 945.2 L713.7 945.6 L714.8 945.9 L715.8 945.1 L716.9 946.2 L718.0 944.7 L719.1 945.7 L720.2 945.3 L721.3 946.4 L722.4 945.4 L723.5 945.5 L724.6 946.6 L725.7 946.5 L726.8 947.8 L727.9 947.7 L729.0 948.6 L730.1 948.5 L731.2 948.8 L732.3 949.5 L733.4 948.0 L734.4 948.0 L735.5 950.3 L736.6 947.7 L737.7 949.8 L738.8 949.6 L739.9 947.8 L741.0 950.6 L742.1 950.9 L743.2 950.2 L744.3 950.7 L745.4 951.1 L746.5 948.9 L747.6 950.3 L748.7 950.4 L749.8 951.6 L750.9 951.6 L752.0 951.7 L753.1 951.0 L754.2 952.1 L755.3 951.4 L756.4 951.5 L757.5 950.0 L758.6 949.4" fill="none" stroke="#ff0000" stroke-width="7.4" stroke-linejoin="round" stroke-linecap="butt"/>
<path d="M334.8 1126.3 L334.8 1125.6 L334.8 1124.0 L334.9 1124.3 L334.9 1122.7 L335.0 1121.7 L335.0 1120.6 L335.1 1119.6 L335.2 1118.1 L335.3 1116.2 L335.4 1116.5 L335.6 1115.4 L335.8 1113.8 L336.1 1112.8 L336.4 1112.0 L336.7 1109.8 L337.1 1110.0 L337.5 1108.1 L337.9 1106.7 L338.3 1106.0 L338.7 1105.9 L339.2 1103.9 L339.7 1103.9 L340.3 1103.5 L340.9 1101.7 L341.6 1100.6 L342.3 1099.9 L343.1 1099.5 L343.9 1098.9 L344.6 1097.8 L345.4 1097.1 L346.2 1095.2 L347.0 1094.6 L347.8 1094.0 L348.6 1094.2 L349.5 1092.7 L350.3 1092.5 L351.2 1090.7 L352.1 1090.1 L353.0 1089.9 L353.9 1090.1 L354.8 1089.5 L355.7 1088.9 L356.7 1087.5 L357.6 1087.4 L358.6 1086.7 L359.5 1086.2 L360.5 1085.0 L361.5 1086.0 L362.4 1084.1 L363.4 1085.1 L364.4 1084.5 L365.4 1082.2 L366.3 1082.5 L367.3 1082.7 L368.3 1082.5 L369.3 1081.0 L370.2 1080.1 L371.2 1079.5 L372.3 1080.6 L373.3 1078.7 L374.3 1079.1 L375.4 1077.9 L376.4 1078.3 L377.5 1078.8 L378.5 1076.8 L379.6 1077.9 L380.6 1076.9 L381.7 1077.3 L382.7 1076.6 L383.8 1075.3 L384.8 1076.4 L385.9 1075.3 L387.0 1074.0 L388.0 1073.6 L389.1 1074.3 L390.1 1073.9 L391.2 1073.3 L392.2 1072.6 L393.3 1072.7 L394.4 1072.4 L395.4 1073.1 L396.5 1071.0 L397.5 1072.3 L398.6 1072.2 L399.6 1070.3 L400.7 1071.7 L401.7 1070.9 L402.8 1071.0 L403.8 1069.4 L404.9 1069.2 L406.0 1069.0 L407.0 1069.9 L408.1 1068.7 L409.1 1067.9 L410.2 1067.7 L411.2 1067.0 L412.3 1066.2 L413.3 1066.0 L414.4 1067.3 L415.4 1065.8 L416.5 1066.9 L417.6 1065.2 L418.6 1065.0 L419.7 1065.3 L420.8 1064.3 L421.9 1064.5 L423.0 1065.6 L424.1 1065.2 L425.1 1064.9 L426.2 1064.2 L427.3 1064.6 L428.4 1064.4 L429.4 1063.3 L430.5 1063.4 L431.6 1061.7 L432.7 1062.9 L433.7 1062.1 L434.8 1062.5 L435.9 1062.0 L437.0 1060.9 L438.0 1060.1 L439.1 1061.9 L440.2 1059.8 L441.3 1060.4 L442.3 1059.9 L443.4 1059.5 L444.5 1060.3 L445.6 1060.7 L446.7 1058.8 L447.8 1059.5 L448.8 1058.5 L449.9 1058.9 L451.0 1058.3 L452.1 1057.6 L453.2 1057.4 L454.3 1057.3 L455.4 1058.7 L456.4 1057.6 L457.5 1056.8 L458.6 1058.2 L459.7 1058.2 L460.8 1056.8 L461.9 1055.9 L463.0 1055.8 L464.1 1055.4 L465.2 1055.8 L466.2 1055.1 L467.3 1055.3 L468.4 1055.2 L469.5 1055.8 L470.6 1056.4 L471.7 1055.9 L472.8 1055.0 L473.9 1054.8 L475.0 1055.0 L476.1 1054.5 L477.2 1054.2 L478.3 1053.4 L479.4 1053.8 L480.5 1055.4 L481.6 1053.2 L482.7 1054.0 L483.8 1054.2 L484.8 1054.6 L485.9 1052.9 L487.0 1052.9 L488.1 1052.7 L489.2 1052.9 L490.3 1052.9 L491.4 1054.0 L492.5 1053.6 L493.6 1053.5 L494.7 1051.2 L495.8 1051.1 L496.9 1052.6 L498.0 1052.9 L499.1 1051.7 L500.1 1051.8 L501.2 1050.2 L502.3 1051.0 L503.4 1052.2 L504.5 1051.8 L505.6 1051.7 L506.7 1051.8 L507.8 1049.9 L508.9 1049.4 L510.0 1049.3 L511.1 1050.1 L512.2 1050.4 L513.3 1050.9 L514.4 1050.2 L515.4 1049.9 L516.5 1050.1 L517.6 1049.2 L518.7 1049.3 L519.8 1047.9 L520.9 1049.7 L522.0 1048.1 L523.1 1049.8 L524.2 1049.0 L525.3 1048.0 L526.4 1047.4 L527.5 1047.6 L528.6 1048.5 L529.7 1048.5 L530.8 1046.9 L531.9 1046.7 L533.0 1047.7 L534.1 1047.8 L535.2 1047.2 L536.3 1046.6 L537.4 1047.5 L538.5 1045.8 L539.6 1046.4 L540.7 1046.7 L541.8 1047.9 L542.9 1047.0 L544.0 1047.5 L545.1 1046.3 L546.2 1045.5 L547.2 1045.4 L548.3 1047.2 L549.4 1046.4 L550.5 1045.2 L551.6 1044.3 L552.7 1045.5 L553.8 1045.9 L554.9 1045.1 L556.0 1044.5 L557.1 1045.5 L558.2 1046.1 L559.3 1044.1 L560.4 1043.5 L561.5 1044.2 L562.6 1044.3 L563.7 1044.9 L564.8 1043.5 L565.9 1045.0 L567.0 1044.7 L568.1 1044.0 L569.2 1043.1 L570.3 1045.1 L571.4 1043.2 L572.5 1044.5 L573.6 1042.8 L574.7 1042.6 L575.8 1044.0 L576.9 1042.6 L578.0 1044.4 L579.1 1043.0 L580.2 1042.1 L581.3 1042.1 L582.4 1042.5 L583.5 1043.1 L584.6 1043.8 L585.7 1041.5 L586.8 1042.1 L587.9 1041.5 L589.0 1043.6 L590.1 1041.2 L591.2 1040.8 L592.3 1040.8 L593.4 1041.6 L594.5 1043.0 L595.6 1042.9 L596.7 1042.3 L597.8 1043.0 L598.9 1042.7 L600.0 1040.9 L601.1 1040.4 L602.2 1042.4 L603.3 1041.7 L604.4 1039.6 L605.5 1041.2 L606.6 1040.3 L607.6 1040.1 L608.7 1039.8 L609.8 1039.2 L610.9 1038.6 L612.0 1039.3 L613.1 1039.5 L614.2 1041.1 L615.3 1038.6 L616.4 1041.0 L617.5 1038.7 L618.6 1039.1 L619.7 1040.4 L620.8 1040.3 L621.9 1039.1 L623.0 1037.9 L624.1 1039.1 L625.2 1038.8 L626.3 1040.3 L627.4 1038.1 L628.5 1038.6 L629.6 1040.1 L630.7 1037.5 L631.8 1038.6 L633.0 1039.7 L634.1 1039.6 L635.2 1037.4 L636.3 1037.3 L637.4 1037.3 L638.5 1039.9 L639.6 1037.8 L640.7 1039.3 L641.8 1039.7 L642.9 1038.0 L644.0 1037.7 L645.1 1039.8 L646.2 1038.7 L647.3 1037.6 L648.4 1039.0 L649.5 1037.7 L650.6 1037.6 L651.7 1036.7 L652.8 1039.0 L653.9 1039.4 L655.0 1038.5 L656.1 1039.4 L657.2 1036.6 L658.3 1037.2 L659.4 1037.9 L660.5 1039.3 L661.6 1039.3 L662.7 1037.5 L663.8 1037.1 L664.9 1037.6 L666.0 1037.7 L667.1 1039.0 L668.2 1036.7 L669.3 1038.6 L670.4 1038.4 L671.5 1038.6 L672.6 1038.4 L673.7 1037.8 L674.8 1036.9 L675.9 1036.9 L677.0 1037.0 L678.1 1038.2 L679.3 1036.0 L680.4 1036.3 L681.5 1038.0 L682.6 1036.4 L683.7 1035.8 L684.8 1035.6 L685.9 1037.2 L687.0 1036.4 L688.1 1038.4 L689.2 1038.1 L690.3 1038.4 L691.4 1036.0 L692.5 1035.4 L693.6 1035.4 L694.7 1036.6 L695.8 1037.2 L696.9 1036.3 L698.0 1035.6 L699.1 1036.1 L700.2 1036.7 L701.3 1036.8 L702.4 1037.0 L703.5 1037.3 L704.6 1036.6 L705.7 1034.8 L706.8 1037.1 L707.9 1035.3 L709.0 1036.1 L710.1 1035.4 L711.2 1036.5 L712.3 1034.7 L713.4 1034.8 L714.5 1034.8 L715.6 1034.4 L716.7 1036.7 L717.8 1035.7 L718.9 1034.8 L720.0 1035.0 L721.1 1036.9 L722.2 1035.2 L723.3 1034.3 L724.4 1036.1 L725.5 1035.6 L726.6 1036.6 L727.7 1033.7 L728.8 1034.9 L729.9 1036.0 L731.0 1036.0 L732.1 1036.2 L733.2 1033.3 L734.3 1034.1 L735.4 1033.5 L736.5 1033.7 L737.6 1036.3 L738.8 1035.0 L739.9 1036.1 L741.0 1034.2 L742.1 1035.8 L743.2 1034.4 L744.3 1033.7 L745.4 1035.5 L746.5 1036.0 L747.6 1033.1 L748.7 1034.8 L749.8 1034.8 L750.9 1033.4 L752.0 1033.9 L753.1 1033.1 L754.2 1033.3 L755.3 1033.5 L756.4 1034.6 L757.5 1034.7 L758.6 1033.2" fill="none" stroke="#0000ff" stroke-width="7.4" stroke-linejoin="round" stroke-linecap="butt"/>
<path d="M334.4 714.16 V1131.5" stroke="#000" stroke-width="5" stroke-dasharray="5.2 5.34" fill="none"/>
<rect x="192.2" y="714.6" width="569.0" height="416.9" fill="none" stroke="#000" stroke-width="5"/>
<path d="M263.2 1131.5 v-8.6 M263.2 714.6 v8.6 M334.3 1131.5 v-8.6 M334.3 714.6 v8.6 M405.4 1131.5 v-8.6 M405.4 714.6 v8.6 M476.5 1131.5 v-8.6 M476.5 714.6 v8.6 M547.6 1131.5 v-8.6 M547.6 714.6 v8.6 M618.7 1131.5 v-8.6 M618.7 714.6 v8.6 M689.8 1131.5 v-8.6 M689.8 714.6 v8.6 M227.7 1131.5 v-3.4 M227.7 714.6 v3.4 M298.8 1131.5 v-3.4 M298.8 714.6 v3.4 M369.9 1131.5 v-3.4 M369.9 714.6 v3.4 M441.0 1131.5 v-3.4 M441.0 714.6 v3.4 M512.0 1131.5 v-3.4 M512.0 714.6 v3.4 M583.2 1131.5 v-3.4 M583.2 714.6 v3.4 M654.2 1131.5 v-3.4 M654.2 714.6 v3.4 M725.4 1131.5 v-3.4 M725.4 714.6 v3.4 M192.2 1080.2 h8.6 M761.2 1080.2 h-8.6 M192.2 1010.4 h8.6 M761.2 1010.4 h-8.6 M192.2 940.6 h8.6 M761.2 940.6 h-8.6 M192.2 870.8 h8.6 M761.2 870.8 h-8.6 M192.2 801.0 h8.6 M761.2 801.0 h-8.6 M192.2 731.2 h8.6 M761.2 731.2 h-8.6 M192.2 1115.1 h5.1 M761.2 1115.1 h-5.1 M192.2 1045.3 h5.1 M761.2 1045.3 h-5.1 M192.2 975.5 h5.1 M761.2 975.5 h-5.1 M192.2 905.7 h5.1 M761.2 905.7 h-5.1 M192.2 835.9 h5.1 M761.2 835.9 h-5.1 M192.2 766.1 h5.1 M761.2 766.1 h-5.1" fill="none" stroke="#000" stroke-width="4.4"/>
<text x="192.60" y="1166.40" font-size="31" fill="#000" text-anchor="middle" font-weight="bold" letter-spacing="1.1">-10</text>
<text x="263.70" y="1166.40" font-size="31" fill="#000" text-anchor="middle" font-weight="bold" letter-spacing="1.1">-5</text>
<text x="334.30" y="1166.40" font-size="31" fill="#000" text-anchor="middle" font-weight="bold">0</text>
<text x="405.40" y="1166.40" font-size="31" fill="#000" text-anchor="middle" font-weight="bold">5</text>
<text x="477.00" y="1166.40" font-size="31" fill="#000" text-anchor="middle" font-weight="bold" letter-spacing="1.1">10</text>
<text x="548.10" y="1166.40" font-size="31" fill="#000" text-anchor="middle" font-weight="bold" letter-spacing="1.1">15</text>
<text x="619.20" y="1166.40" font-size="31" fill="#000" text-anchor="middle" font-weight="bold" letter-spacing="1.1">20</text>
<text x="690.30" y="1166.40" font-size="31" fill="#000" text-anchor="middle" font-weight="bold" letter-spacing="1.1">25</text>
<text x="761.40" y="1166.40" font-size="31" fill="#000" text-anchor="middle" font-weight="bold" letter-spacing="1.1">30</text>
<text x="180.90" y="1089.90" font-size="32" fill="#000" text-anchor="end" font-weight="bold">0.2</text>
<text x="180.90" y="1020.10" font-size="32" fill="#000" text-anchor="end" font-weight="bold">0.4</text>
<text x="180.90" y="950.30" font-size="32" fill="#000" text-anchor="end" font-weight="bold">0.6</text>
<text x="180.90" y="880.50" font-size="32" fill="#000" text-anchor="end" font-weight="bold">0.8</text>
<text x="180.90" y="810.70" font-size="32" fill="#000" text-anchor="end" font-weight="bold">1.0</text>
<text x="180.90" y="740.90" font-size="32" fill="#000" text-anchor="end" font-weight="bold">1.2</text>
<text x="477.40" y="1203.00" font-size="42.6" fill="#000" text-anchor="middle" font-weight="bold" letter-spacing="1.1">Time (min.)</text>
<text transform="translate(118.8 922.2) rotate(-90) scale(1 1.075)" font-size="45" font-weight="bold" text-anchor="middle">Drain Current (nA)</text>
<g transform="translate(0 756.8) scale(1 1.05) translate(0 -756.8)">
<text x="206.4" y="756.8" font-size="32" font-weight="bold">V</text>
<text x="228.8" y="766.2" font-size="20.6" font-weight="bold" letter-spacing="1.8">GS</text>
<text x="271.4" y="756.8" font-size="32" font-weight="bold" letter-spacing="0.5">=</text>
</g>
<g transform="translate(0 757.1) scale(1 1.05) translate(0 -757.1)">
<text x="572.6" y="757.1" font-size="32" font-weight="bold">V</text>
<text x="595.0" y="766.5" font-size="20.6" font-weight="bold" letter-spacing="1.8">GS</text>
<text x="637.6" y="757.1" font-size="32" font-weight="bold" letter-spacing="0.5">= 0.0 V</text>
</g>
<g transform="translate(0 801.3) scale(1 1.04) translate(0 -801.3)">
<text x="239.00" y="801.30" font-size="31.5" fill="#f00000" text-anchor="start" font-weight="bold" letter-spacing="0.9">-5.0 V</text>
</g>
<g transform="translate(0 1110.5) scale(1 1.04) translate(0 -1110.5)">
<text x="229.00" y="1110.50" font-size="31.5" fill="#0000e6" text-anchor="start" font-weight="bold" letter-spacing="1.2">+5.0 V</text>
</g>
</g>
</svg>
</body>
</html>
